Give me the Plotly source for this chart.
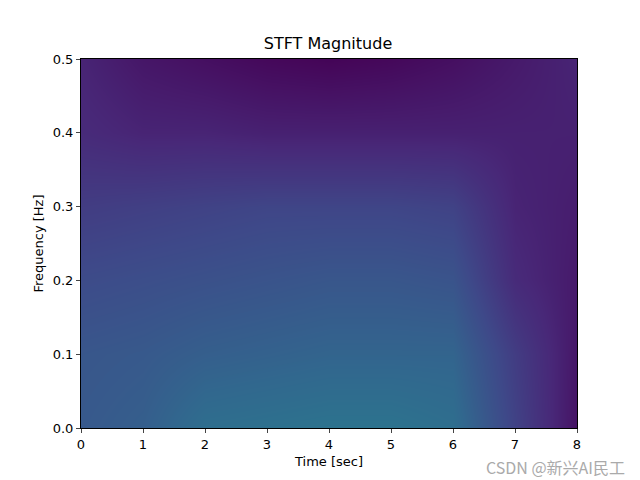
import plotly.graph_objects as go

times = [0, 1, 2, 3, 4, 5, 6, 7, 8]
freqs = [0.0, 0.1, 0.2, 0.3, 0.4, 0.5]
# magnitude grid, rows = freqs, cols = times
magnitude = [
    [0.28, 0.30, 0.36, 0.37, 0.38, 0.38, 0.36, 0.20, 0.05],
    [0.27, 0.28, 0.30, 0.31, 0.32, 0.32, 0.32, 0.18, 0.06],
    [0.23, 0.24, 0.25, 0.26, 0.27, 0.27, 0.26, 0.12, 0.07],
    [0.18, 0.19, 0.20, 0.21, 0.21, 0.21, 0.20, 0.10, 0.08],
    [0.12, 0.10, 0.10, 0.09, 0.09, 0.09, 0.09, 0.09, 0.09],
    [0.10, 0.06, 0.04, 0.02, 0.01, 0.02, 0.04, 0.07, 0.10],
]

fig = go.Figure(go.Heatmap(
    x=times, y=freqs, z=magnitude,
    colorscale="Viridis", zmin=0, zmax=1,
    zsmooth="best", showscale=False,
))

axis_common = dict(
    showgrid=False, zeroline=False, ticks="outside", ticklen=4,
    showline=True, linecolor="black", mirror=True,
    tickfont=dict(size=13, color="black"),
)
fig.update_layout(
    width=640, height=480,
    margin=dict(l=73, r=71, t=51, b=60),
    paper_bgcolor="white", plot_bgcolor="white",
    font=dict(family="DejaVu Sans", color="black"),
    title=dict(text="STFT Magnitude", x=0.5, xanchor="center", y=0.937, font=dict(size=16)),
    xaxis=dict(range=[0, 8], dtick=1, title=dict(text="Time [sec]", font=dict(size=13), standoff=6), **axis_common),
    yaxis=dict(range=[0, 0.5], dtick=0.1, tickformat=".1f", title=dict(text="Frequency [Hz]", font=dict(size=13), standoff=6), **axis_common),
)
fig.add_annotation(
    text="CSDN @新兴AI民工", xref="paper", yref="paper", x=1.1, y=-0.068,
    xanchor="right", yanchor="top", showarrow=False,
    font=dict(family="Noto Sans CJK SC", size=16, color="#aaaaaa"),
)

fig.write_html("out.html")
